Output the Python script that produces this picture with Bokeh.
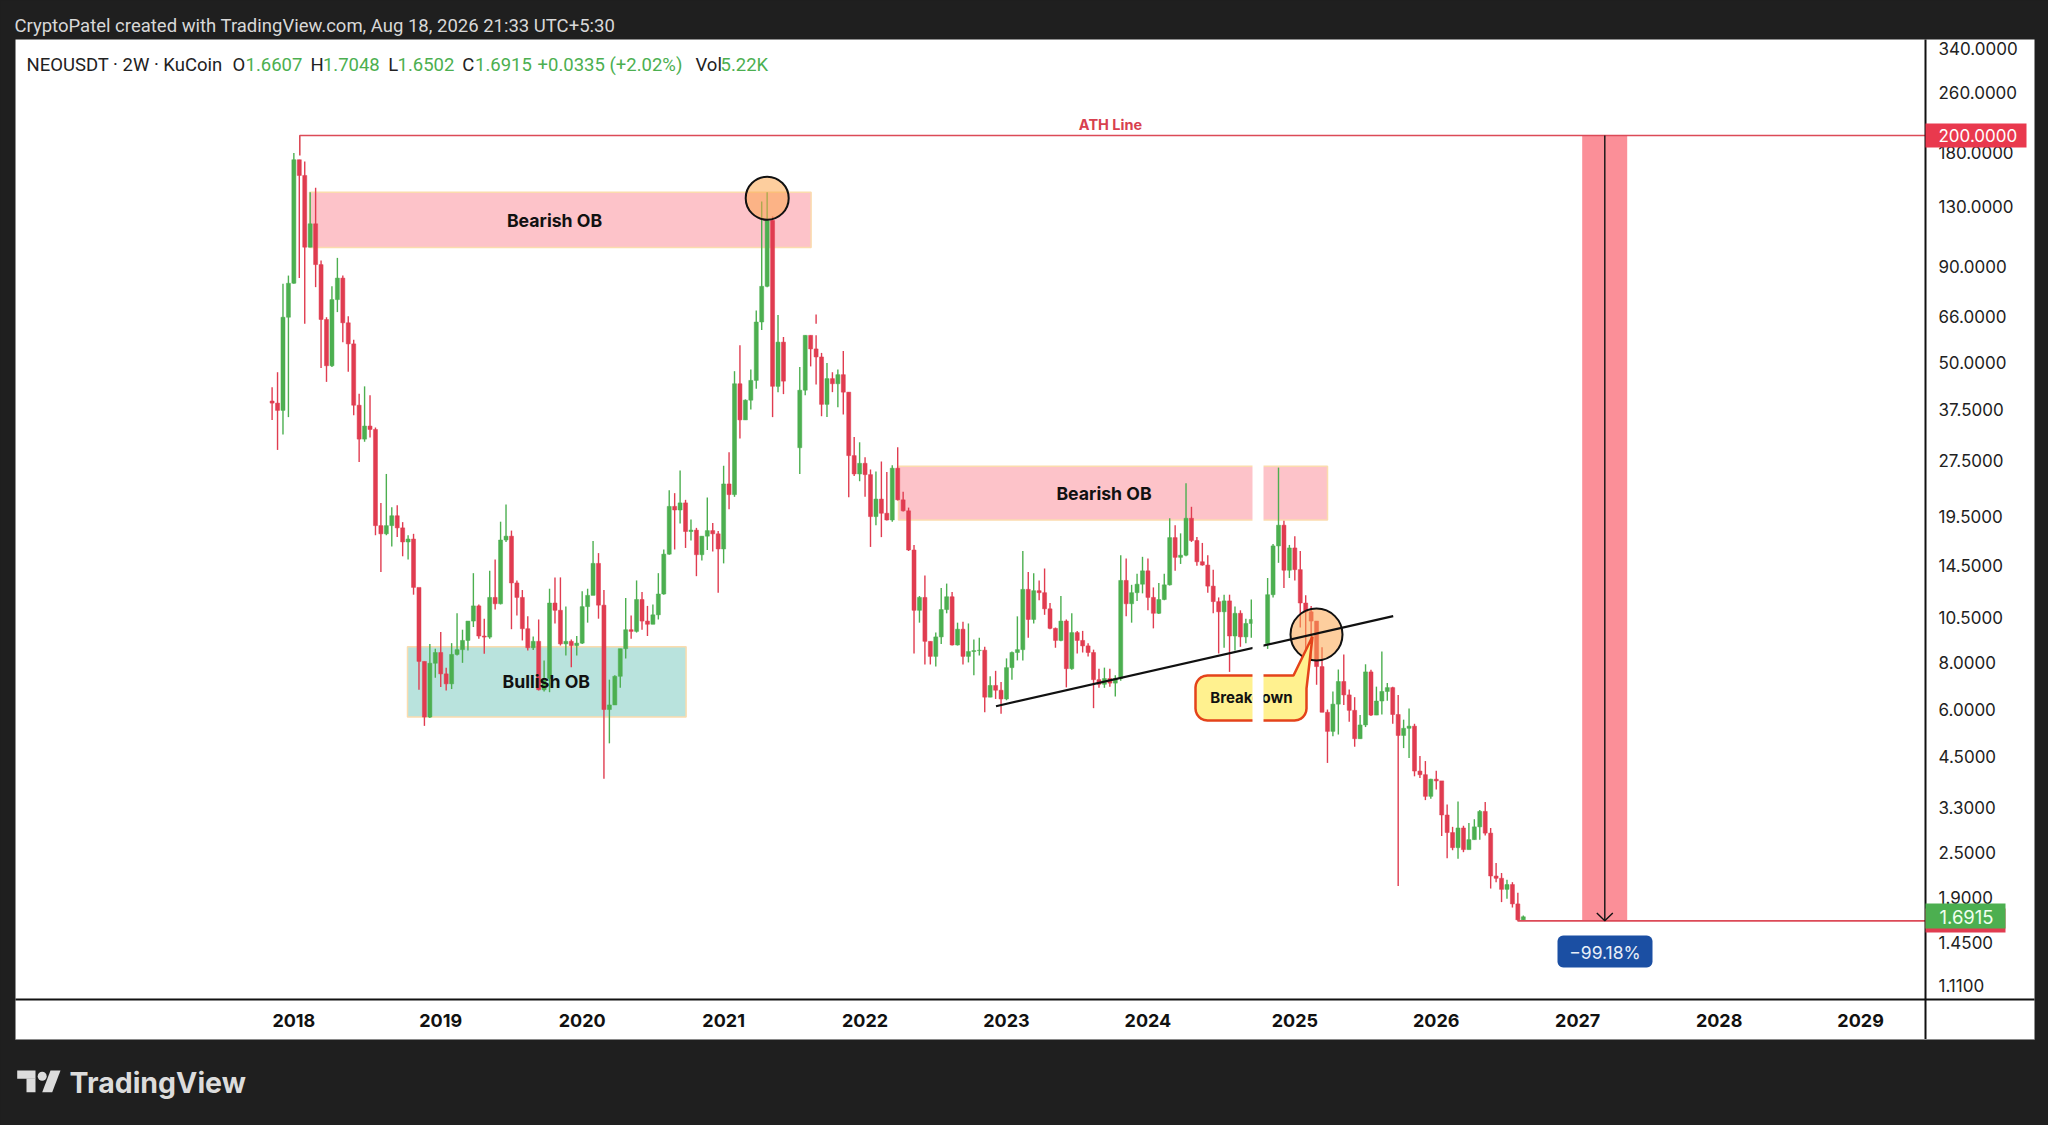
import math
import numpy as np
from bokeh.plotting import figure
from bokeh.models import Range1d, FixedTicker, PrintfTickFormatter
from bokeh.core.properties import value
from bokeh.embed import file_html
from bokeh.resources import INLINE

# ---------------- data ----------------
first_open = 39.5
closes = [39.0,37.3,65.9,81.1,172.5,156.7,101.1,116.6,90.9,65.0,49.0,73.4,83.7,63.7,56.0,38.5,31.3,33.9,33.2,18.45,
17.55,18.45,19.6,18.2,16.7,17.0,12.65,8.05,5.73,7.96,8.5,7.46,7.02,8.4,8.65,9.15,10.3,11.3,9.4,9.34,
11.9,11.45,16.9,17.3,13.0,11.9,9.83,8.75,9.1,6.77,7.24,11.5,11.0,8.96,9.1,8.87,9.0,11.25,12.05,14.65,
11.35,6.0,6.17,7.35,8.7,9.77,9.67,11.75,10.3,10.1,10.7,12.15,15.5,20.75,20.3,21.2,17.8,17.95,15.45,17.3,
17.9,17.55,16.0,23.8,22.3,43.9,35.2,39.7,44.8,64.0,79.6,119.0,43.2,56.6,44.6,None,None,42.2,59.0,54.3,
51.7,38.7,45.3,43.9,46.4,41.7,28.3,25.3,27.0,25.2,19.5,21.7,19.9,19.1,26.2,21.6,20.2,15.9,11.0,11.9,
9.1,8.3,9.35,11.05,11.95,8.9,9.8,8.3,8.55,8.6,8.62,6.47,6.95,6.75,6.4,7.75,8.5,8.65,12.5,10.4,
12.4,12.25,11.1,9.85,9.15,10.3,7.7,9.6,9.15,8.85,8.5,7.2,7.0,7.25,7.05,7.25,13.2,11.45,12.25,12.9,
14.0,11.9,10.8,11.75,12.85,17.15,15.2,15.4,19.3,16.85,14.8,14.5,12.75,11.6,10.9,11.65,9.4,10.8,9.35,10.15,
10.4,None,None,12.1,16.3,18.5,14.05,16.1,14.1,11.5,10.9,10.3,7.8,5.9,5.25,6.2,7.12,6.56,5.97,5.02,
5.46,7.55,5.8,6.32,6.7,6.86,5.82,5.12,5.35,5.42,4.12,4.03,3.53,3.92,3.88,3.15,2.83,2.58,2.91,2.55,
2.71,2.93,3.22,2.82,2.17,2.14,2.0,2.06,1.83,1.66,1.6915]
highs = [43.0,47.1,80.8,85.0,179.7,172.5,170.7,141.5,145.3,93.2,65.9,79.6,94.7,85.0,66.3,57.4,41.3,43.2,40.9,33.6,
21.2,25.3,20.65,20.9,18.85,17.4,17.55,12.55,8.05,8.96,8.7,9.63,7.74,9.0,10.8,9.77,10.3,13.8,11.4,10.45,
14.0,15.0,18.9,21.0,17.9,13.2,12.45,10.6,9.38,10.4,8.1,12.55,13.45,13.45,11.25,9.2,9.4,12.35,12.55,16.8,
15.6,12.45,7.2,7.4,8.7,11.85,10.65,13.2,12.3,11.3,11.4,13.8,15.95,22.9,22.5,25.84,21.6,19.15,18.2,17.3,
21.9,18.75,17.85,26.6,28.9,47.4,55.5,39.9,47.9,68.7,133.7,141.5,122.0,66.8,58.4,None,None,48.6,59.0,59.0,
59.0,53.0,49.8,47.1,47.9,53.6,41.7,31.7,30.7,28.0,26.0,25.7,27.3,25.6,26.7,29.8,22.7,20.6,16.4,12.0,
13.6,9.1,9.6,12.6,12.95,12.3,10.2,10.25,10.15,9.2,9.3,8.8,7.35,7.6,7.1,8.2,8.55,10.6,15.8,13.9,
13.8,13.2,14.2,11.5,9.9,12.0,10.4,10.8,9.7,9.7,9.0,8.65,7.7,7.75,7.7,7.4,15.4,15.1,12.85,13.75,
15.25,15.1,12.65,13.0,13.75,19.3,18.5,17.6,23.9,20.7,17.2,16.6,15.4,14.1,11.9,12.1,12.1,11.25,11.0,10.45,
11.75,None,None,13.4,16.5,26.3,19.0,16.4,17.3,15.8,12.05,11.3,10.3,8.78,6.0,6.7,7.66,8.4,6.78,6.47,
5.8,7.91,7.65,6.9,8.55,7.05,6.9,6.56,5.64,6.04,5.5,4.52,4.38,3.93,4.13,3.87,3.36,2.93,3.42,2.95,
3.0,3.07,3.25,3.41,2.91,2.35,2.21,2.12,2.09,1.96,1.7048]
lows = [35.2,29.3,32.2,35.8,80.8,83.7,63.3,101.0,79.2,48.3,44.4,48.6,68.0,56.6,47.2,36.2,27.2,30.8,31.6,17.4,
13.9,17.4,16.25,17.2,15.3,15.0,12.1,6.77,5.43,5.7,7.28,6.88,6.74,6.8,8.35,7.98,8.6,9.93,9.25,8.43,
9.25,11.05,11.4,16.7,9.8,10.65,9.15,8.6,8.63,6.74,6.7,6.67,10.15,8.87,8.35,7.77,8.35,8.96,10.2,12.05,
10.45,3.93,4.88,6.17,6.85,8.2,9.25,9.6,9.77,9.4,10.1,10.4,12.1,15.45,15.95,18.7,16.1,16.85,13.55,14.9,
15.9,15.75,12.25,14.65,20.4,22.0,31.4,35.2,37.5,42.6,61.0,79.2,35.8,41.7,41.2,None,None,25.3,40.9,48.8,
43.7,36.0,35.8,41.7,38.0,36.4,21.96,25.0,24.2,22.0,16.2,18.5,17.2,19.05,18.9,21.5,20.1,15.8,8.45,10.2,
7.9,7.9,7.8,8.95,10.8,8.87,8.87,7.9,8.0,7.4,8.35,5.9,6.47,6.4,5.85,6.35,7.2,8.1,8.1,9.3,
10.15,11.7,10.7,9.8,8.75,9.1,6.87,7.65,8.45,8.5,8.3,6.05,6.85,6.85,6.9,6.5,7.15,10.6,10.2,11.65,
12.2,11.0,9.85,10.75,11.7,12.8,14.0,14.6,15.3,16.7,14.45,14.45,12.25,10.8,8.45,8.75,7.55,8.6,8.8,9.0,
9.3,None,None,8.69,11.9,14.7,12.6,13.4,13.2,9.9,8.42,8.15,6.98,5.9,4.33,5.1,5.15,6.17,5.57,4.78,
5.02,5.39,5.77,5.8,5.82,6.33,5.5,2.04,4.74,4.46,3.99,3.95,3.45,3.48,3.68,2.77,2.42,2.54,2.41,2.51,
2.55,2.71,2.71,2.78,2.01,2.09,1.85,1.89,1.79,1.65,1.6502]
opens_after_gap = {97: 29.7, 183: 8.97}
stray_index, stray_high, stray_low = 100, 67.0, 63.3

price_ticks = [340,260,180,130,90,66,50,37.5,27.5,19.5,14.5,10.5,8,6,4.5,3.3,2.5,1.9,1.45,1.11]
year_bars = [4,31,57,83,109,135,161,188,214,240,266,292]
year_names = ["2018","2019","2020","2021","2022","2023","2024","2025","2026","2027","2028","2029"]
ath_price, last_price, target_price, drop_text = 200.0, 1.6915, 1.65, "\u221299.18%"
bear1 = (141.5, 100.9); bear2 = (26.5, 19.1); bull = (8.8, 5.73)

# ---------------- scales: reference pixel -> data ----------------
def px(X): return (X - 271.6) / 5.44
def py(Y): return 200.0 * math.exp(-(Y - 135.0) / 163.7)

GREEN, RED = "#4caf50", "#e03c50"
DARK = "#1f1f1f"
W, H = 2048, 1125
p = figure(width=W, height=H, output_backend="svg", toolbar_location=None,
           x_range=Range1d(px(0), px(W)), y_range=Range1d(py(H), py(0)),
           y_axis_type="log", y_axis_location="right",
           min_border_left=0, min_border_right=0, min_border_top=0, min_border_bottom=0,
           background_fill_color=DARK, border_fill_color=DARK, outline_line_color=None)
p.grid.visible = False

def box(X0, Y0, X1, Y1, color, **kw):
    p.quad(left=px(X0), right=px(X1), top=py(Y0), bottom=py(Y1), fill_color=color, line_color=None, **kw)

def rule(X0, Y0, X1, Y1, color="#111111", w=1.6, **kw):
    p.line([px(X0), px(X1)], [py(Y0), py(Y1)], line_color=color, line_width=w, **kw)

def ptext(text, X, Y, color, size, bold=True, align="center", font="Inter", **kw):
    p.text(x=[px(X)], y=[py(Y)], text=[text], text_color=color, text_font=value(font),
           text_font_size=f"{size}px", text_font_style="bold" if bold else "normal",
           text_align=align, text_baseline="middle", **kw)

def rounded(x0, y0, x1, y1, r):
    pts = []
    for cx, cy, a0 in ((x1-r, y0+r, -90), (x1-r, y1-r, 0), (x0+r, y1-r, 90), (x0+r, y0+r, 180)):
        for k in range(7):
            a = math.radians(a0 + 15 * k)
            pts.append((cx + r * math.cos(a), cy + r * math.sin(a)))
    return pts

def patch(pts, **kw):
    p.patch([px(a) for a, _ in pts], [py(b) for _, b in pts], **kw)

# white chart sheet
box(15, 39, 2034, 1039, "white")

yax = p.yaxis[0]
yax.fixed_location = px(1925)
yax.ticker = FixedTicker(ticks=price_ticks, minor_ticks=[])
yax.formatter = PrintfTickFormatter(format="%.4f")
yax.major_tick_line_color = None; yax.minor_tick_line_color = None
yax.axis_line_color = None
yax.major_label_text_font = "Inter"; yax.major_label_text_font_size = "17px"
yax.major_label_text_color = "#222222"; yax.major_label_standoff = 7

xax = p.xaxis[0]
xax.fixed_location = py(999)
xax.ticker = FixedTicker(ticks=year_bars, minor_ticks=[])
xax.major_label_overrides = dict(zip(year_bars, year_names))
xax.major_tick_line_color = None; xax.minor_tick_line_color = None
xax.axis_line_color = None
xax.major_label_text_font = "Inter"; xax.major_label_text_font_style = "bold"
xax.major_label_text_font_size = "18px"; xax.major_label_text_color = "#111111"
xax.major_label_standoff = 8

# order blocks
for (top, bot), (X0, X1), col in ((bear1, (309, 810.6), "#fdc3c9"), (bear2, (898, 1327), "#fdc3c9"), (bull, (407, 685.6), "#b9e3dd")):
    p.quad(left=px(X0), right=px(X1), top=top, bottom=bot, fill_color=col, line_color="#fbdcae", line_width=1.5)

# measured band
p.quad(left=px(1581.7), right=px(1626.7), top=ath_price, bottom=target_price, fill_color="#fb8f98", line_color=None)

# candles
n = len(closes)
idx = np.arange(n)
c = np.array([np.nan if v is None else v for v in closes], float)
h = np.array([np.nan if v is None else v for v in highs], float)
l = np.array([np.nan if v is None else v for v in lows], float)
o = np.concatenate([[first_open], c[:-1]])
for k, v in opens_after_gap.items():
    o[k] = v
mask = ~np.isnan(c)
col = np.where(c >= o, GREEN, RED)
p.segment(idx[mask], h[mask], idx[mask], l[mask], line_color=list(col[mask]), line_width=1.4)
p.vbar(x=idx[mask], width=0.74, top=np.maximum(o, c)[mask], bottom=np.minimum(o, c)[mask],
       fill_color=list(col[mask]), line_color=list(col[mask]), line_width=0.5)
p.segment([stray_index], [stray_high], [stray_index], [stray_low], line_color=RED, line_width=1.4)

# ATH / target lines
p.line([px(299.3), px(299.3), px(1925)], [py(155), ath_price, ath_price], line_color="#dc4a57", line_width=1.6)
p.line([px(1517), px(1925)], [target_price, target_price], line_color="#dc4a57", line_width=1.6)

# measure arrow
ax = 1604.3
p.line([px(ax), px(ax)], [ath_price, target_price], line_color="#111111", line_width=1.4)
p.line([px(ax-8), px(ax), px(ax+8)], [py(912.5), target_price, py(912.5)], line_color="#111111", line_width=1.4)

# circles
p.scatter([px(766.7)], [py(197.7)], size=43, marker="circle", fill_color="#fba64f", fill_alpha=0.55, line_color="#111111", line_width=2)
p.scatter([px(1316)], [py(634)], size=52, marker="circle", fill_color="#fba64f", fill_alpha=0.55, line_color="#111111", line_width=2)

# trend line
p.line([px(995.5), px(1392.7)], [py(705.7), py(615.6)], line_color="#111111", line_width=2.2)

# callout
r = 12
pts = []
for cx, cy, a0 in ((1306-r, 720-r, 0), (1195+r, 720-r, 90), (1195+r, 675+r, 180)):
    for k in range(7):
        a = math.radians(a0 + 15 * k)
        pts.append((cx + r * math.cos(a), cy + r * math.sin(a)))
pts += [(1293, 675), (1312, 636), (1306, 688)]
patch(pts, fill_color="#fff18f", line_color="#e4431a", line_width=2.5)
ptext("Breakdown", 1251, 697, "#111111", 15)

# erased strip
box(1252, 460, 1263, 726, "white")

ptext("Bearish OB", 554, 219.5, "#111111", 17.7)
ptext("Bearish OB", 1103.5, 493, "#111111", 17.7)
ptext("Bullish OB", 545.7, 681, "#111111", 17.7)
ptext("ATH Line", 1110, 124, "#d8404e", 14.5)

# drop label
patch(rounded(1557, 935, 1652, 967, 6), fill_color="#1b4fa3", line_color=None)
ptext(drop_text, 1604.5, 952, "#e8eef8", 17.5, bold=False)

# price tags on the axis
box(1925, 123, 2026, 147, "#e9394e", level="annotation")
box(1925, 908, 2005, 932, "#e03c50", level="annotation")
box(1925, 903, 2005, 928, "#4caf50", level="annotation")
ptext("200.0000", 1938, 135, "#ffffff", 17, bold=False, align="left", level="annotation")
ptext("1.6915", 1939, 916, "#f0fff0", 18.5, bold=False, align="left", level="annotation")

# frame lines
rule(15, 999, 2034, 999, w=2)
rule(1925, 39, 1925, 1039, w=2)
rule(15, 1039, 2034, 1039, color="#8a8a8a", w=1)

# header + legend
ptext("CryptoPatel created with TradingView.com, Aug 18, 2026 21:33 UTC+5:30", 14, 25, "#d8d8d8", 18.5, bold=False, align="left", font="Roboto")
LEG = "#222222"
for t, X, colr in (("NEOUSDT \u00b7 2W \u00b7 KuCoin", 26, LEG), ("O", 232, LEG), ("1.6607", 245, GREEN),
                   ("H", 310, LEG), ("1.7048", 322.4, GREEN), ("L", 387.8, LEG), ("1.6502", 397, GREEN),
                   ("C", 461.7, LEG), ("1.6915", 474.5, GREEN), ("+0.0335 (+2.02%)", 537, GREEN),
                   ("Vol", 695, LEG), ("5.22K", 720, GREEN)):
    ptext(t, X, 64, colr, 18.5, bold=False, align="left", font="Roboto")

# TradingView logo
LOGO = "#dcdcdc"
box(16.7, 1070, 35, 1078.3, LOGO)
box(26, 1078, 35, 1091.7, LOGO)
patch([(50, 1070), (60, 1070), (51.7, 1091.7), (41.7, 1091.7)], fill_color=LOGO, line_color=None)
p.scatter([px(41.7)], [py(1075.7)], size=9, marker="circle", fill_color=LOGO, line_color=None)
ptext("TradingView", 69, 1082, LOGO, 28.5, align="left")

html = file_html(p, INLINE)
html = html.replace("<head>", f"<head><style>html,body{{background:{DARK};}}</style>", 1)
open("out.html", "w").write(html)
